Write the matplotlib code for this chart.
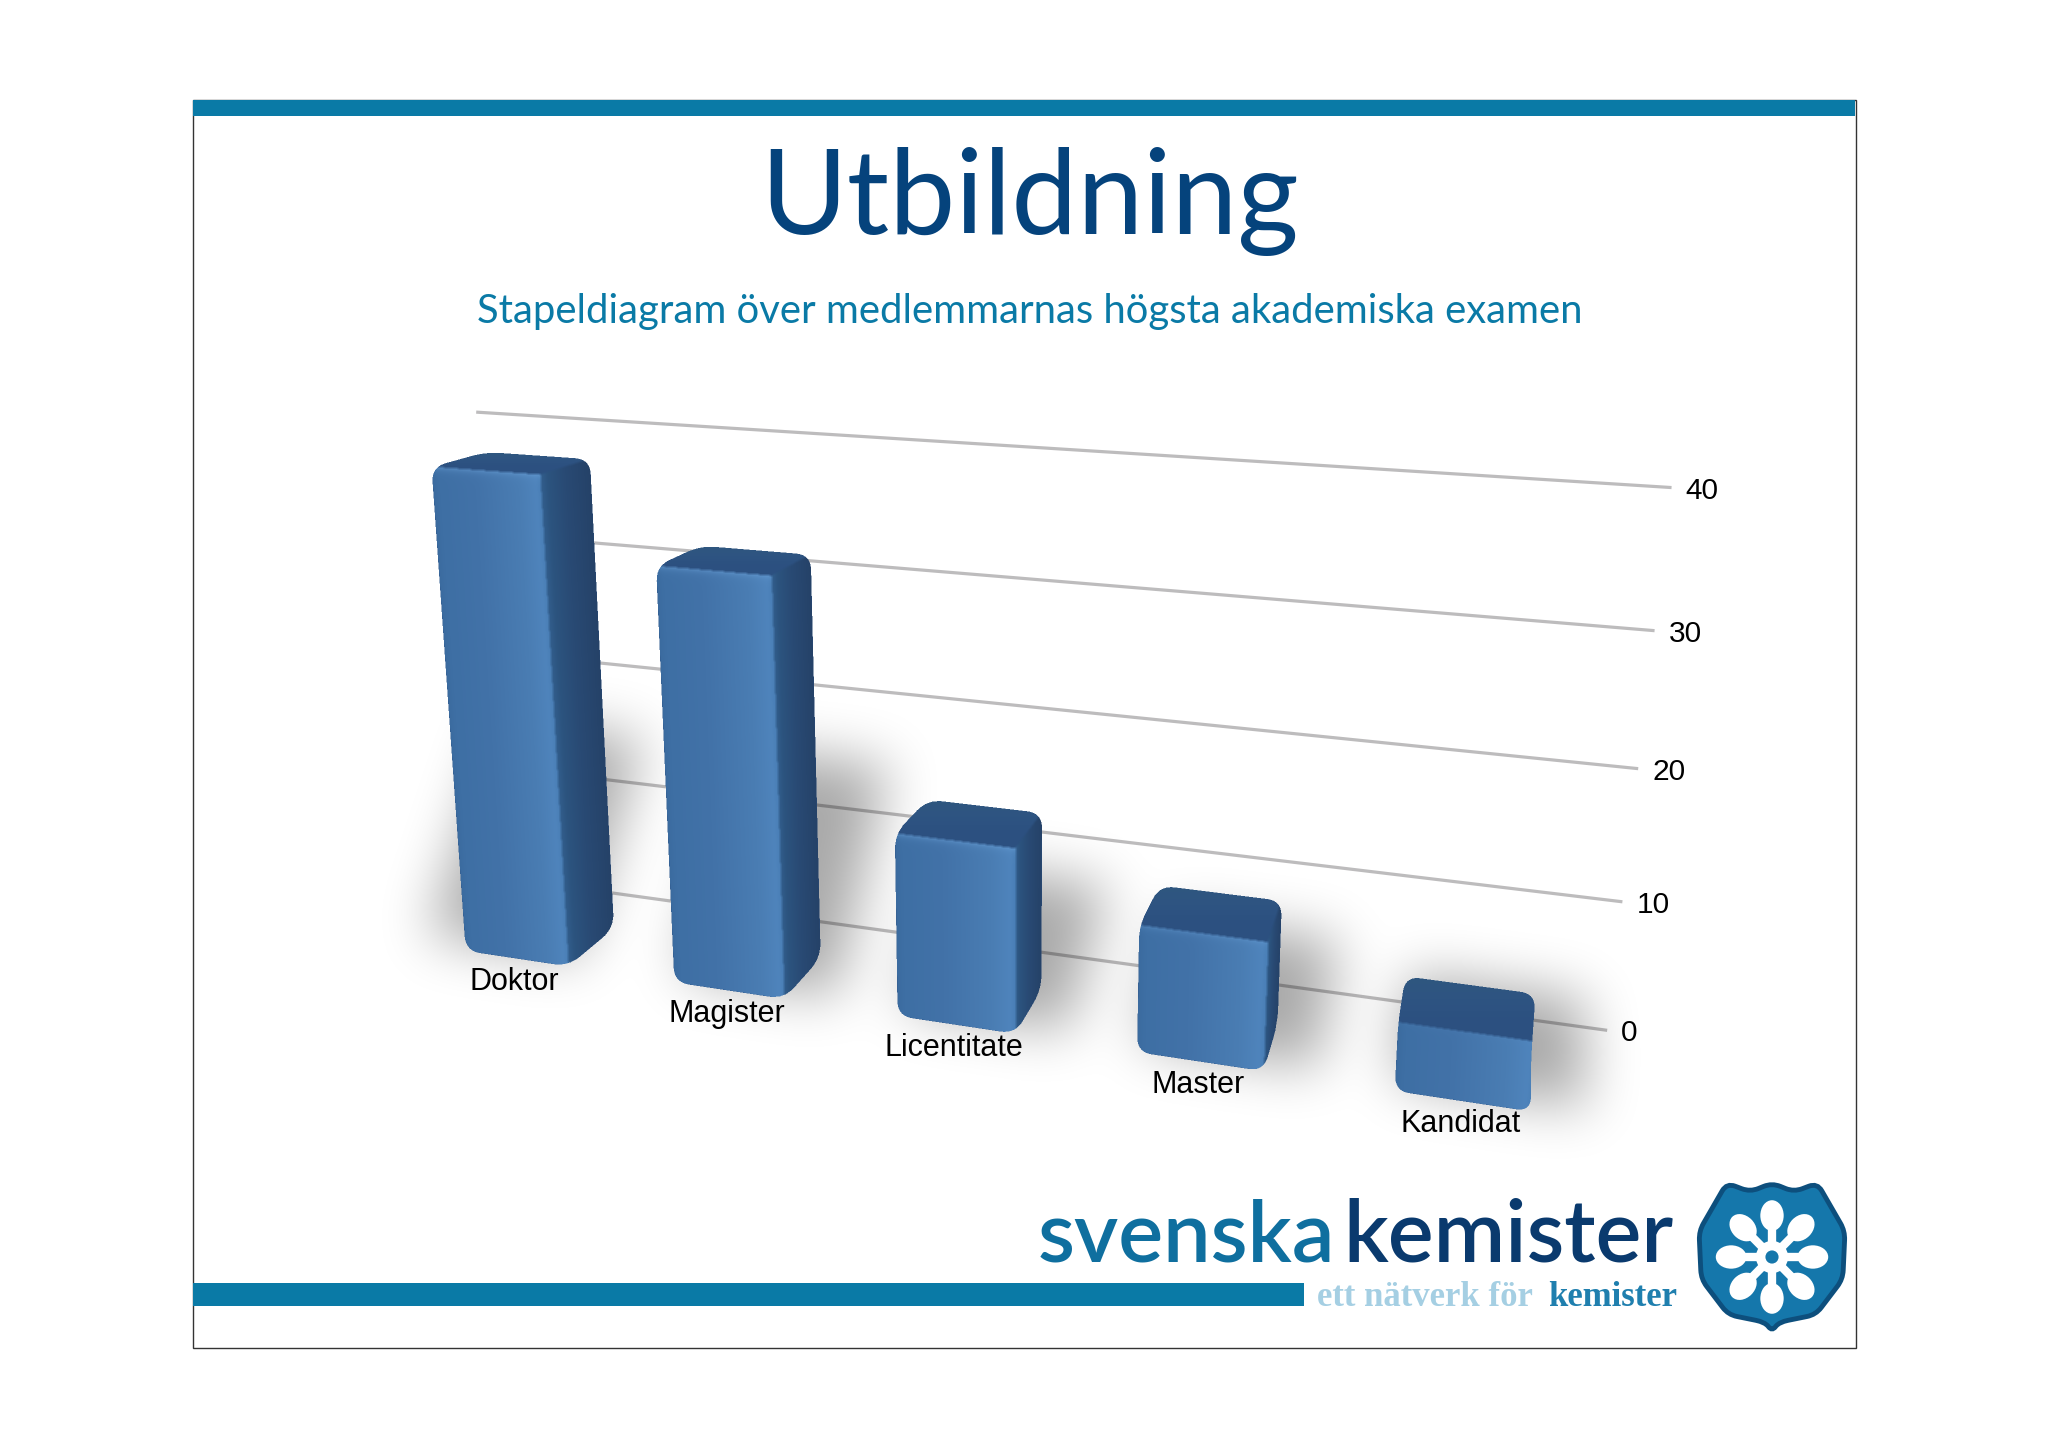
import numpy as np
import matplotlib
matplotlib.use("Agg")
import matplotlib.pyplot as plt
from matplotlib.path import Path
from matplotlib.patches import PathPatch, Circle, Ellipse, Rectangle

categories = ["Doktor", "Magister", "Licentitate", "Master", "Kandidat"]
values = [38, 32, 14, 9.5, 5]
grid_values = [0, 10, 20, 30, 40]

# bar size and wall position in chart units
HALF_W = 0.25
HALF_D = 0.25
WALL_Y = -0.68
WALL_X = (-0.55, 4.55)
WALL_LEAN = (0.001, 0.002)
SHADOW_LEAN = [-0.24, 0.2, 0.2, 0.2, 0.2]

# perspective camera: (category, depth, value) -> figure pixels
CAMERA = np.array([
    [183.535, -147.7376, -1.541877, 541.0488],
    [-0.7425483, -15.5977, -13.23929, 939.3907],
    [-0.03226043, -0.09638586, -0.00152294, 1.0],
])

def project(x, y, z):
    q = CAMERA @ np.array([x, y, z, 1.0])
    return q[0]/q[2], q[1]/q[2]

def rounded(points, r):
    pts = np.array(points, float)
    n = len(pts)
    verts, codes = [], []
    for k in range(n):
        p, a, b = pts[k], pts[k-1], pts[(k+1) % n]
        da, db = a-p, b-p
        ra = min(r, np.hypot(*da)/2.2)
        rb = min(r, np.hypot(*db)/2.2)
        s = p + da/np.hypot(*da)*ra
        e = p + db/np.hypot(*db)*rb
        verts += [s, p, e]
        codes += [Path.MOVETO if k == 0 else Path.LINETO, Path.CURVE3, Path.CURVE3]
    verts.append(verts[0]); codes.append(Path.CLOSEPOLY)
    return Path(verts, codes)

def ramp(u, stops, colors):
    c = np.array([matplotlib.colors.to_rgb(h) for h in colors])
    return np.dstack([np.interp(u, stops, c[:,j]) for j in range(3)])

def edge_x(y, a, b):
    return a[0] + (y-a[1])*(b[0]-a[0])/(b[1]-a[1])

def box_blur(a, n, times=3):
    k = np.ones(n)/n
    for _ in range(times):
        a = np.apply_along_axis(lambda c: np.convolve(c,k,mode="same"), 0, a)
        a = np.apply_along_axis(lambda c: np.convolve(c,k,mode="same"), 1, a)
    return a

def draw_bar(ax, i, v):
    l, r, f, b = i-HALF_W, i+HALF_W, HALF_D, -HALF_D
    flt, blt, brt, frt = [project(*c) for c in [(l,f,v),(l,b,v),(r,b,v),(r,f,v)]]
    flb, frb, brb = [project(*c) for c in [(l,f,0),(r,f,0),(r,b,0)]]
    sil = Path(rounded([flt,blt,brt,brb,frb,flb], 15).to_polygons(closed_only=True)[0])
    x0, x1 = int(sil.vertices[:,0].min())-4, int(sil.vertices[:,0].max())+5
    y0, y1 = int(sil.vertices[:,1].min())-4, int(sil.vertices[:,1].max())+5
    xs, ys = np.meshgrid(np.arange(x0,x1)+0.5, np.arange(y0,y1)+0.5)
    grid = np.c_[xs.ravel(), ys.ravel()]
    # alpha from 4 samples a pixel
    alpha = np.zeros(xs.shape)
    for dx, dy in [(-.25,-.25),(.25,-.25),(-.25,.25),(.25,.25)]:
        alpha += sil.contains_points(grid+[dx,dy]).reshape(xs.shape)
    alpha /= 4
    # top face
    tv = np.clip((ys-blt[1])/max(flt[1]-blt[1],1), 0, 1)
    img = ramp(tv, [0,0.5,1], ["#2f577f","#2e5482","#2c5080"])
    # side face
    m = Path([frt,brt,brb,frb]).contains_points(grid, radius=1).reshape(xs.shape)
    xl, xr = edge_x(ys,frt,frb), edge_x(ys,brt,brb)
    u = np.clip((xs-xl)/np.maximum(xr-xl,1), 0, 1)
    img[m] = ramp(u, [0,0.15,0.5,1], ["#335f8e","#2c547f","#294a74","#254268"])[m]
    # front face
    m = Path([flt,frt,frb,flb]).contains_points(grid, radius=1).reshape(xs.shape)
    xl, xr = edge_x(ys,flt,flb), edge_x(ys,frt,frb)
    u = np.clip((xs-xl)/np.maximum(xr-xl,1), 0, 1)
    fc = ramp(u, [0,0.06,0.4,0.8,0.96,1], ["#3b6b9f","#3e6fa4","#4272a8","#4a7db3","#4f84bc","#4a7fb6"])
    dist = ys-(flt[1]+(xs-flt[0])*(frt[1]-flt[1])/(frt[0]-flt[0]))
    glow = np.exp(-np.maximum(dist,0)/3.0)[...,None]*0.45*min(1, max(v-4,0)/8)
    fc = fc*(1-glow) + np.array(matplotlib.colors.to_rgb("#6ea5dc"))*glow
    img[m] = fc[m]
    img = np.dstack([box_blur(img[...,j], 3, 1) for j in range(3)])
    ax.imshow(np.dstack([np.clip(img,0,1), alpha]), extent=(x0,x1,y1,y0), zorder=5+i, interpolation="bilinear", aspect="auto")

fig = plt.figure(figsize=(20.48,14.47), dpi=100)
ax = fig.add_axes([0,0,1,1])
ax.set_xlim(0,2048); ax.set_ylim(1447,0); ax.axis("off")

BLUE = "#0a7aa6"
ax.add_patch(Rectangle((192.5,99.5),1663,1248, fc="white", ec="#333333", lw=1, zorder=1))
ax.add_patch(Rectangle((193,100),1662,16, fc=BLUE, ec="none", zorder=2))
ax.add_patch(Rectangle((193,1283),1111,23, fc=BLUE, ec="none", zorder=2))

ax.text(1030,202,"Utbildning",family="Lato",fontsize=85,color="#05437c",ha="center",va="center",zorder=3)
ax.text(1030,311,"Stapeldiagram över medlemmarnas högsta akademiska examen",family="Lato",fontsize=28.8,color=BLUE,ha="center",va="center",zorder=3)

for g in grid_values:
    a = project(WALL_X[0]+WALL_LEAN[0]*g,WALL_Y,g)
    b = project(WALL_X[1]+WALL_LEAN[1]*g,WALL_Y,g)
    ax.plot([a[0],b[0]],[a[1],b[1]],color="#bdbcbd",lw=2.3,zorder=2,solid_capstyle="butt")
    ax.text(b[0]+14,b[1]+3,str(g),family="Liberation Sans",fontsize=21.5,color="black",ha="left",va="center")

# soft shadows behind the bars, on a coarse grid
c = 4
sx, sy = np.meshgrid(np.arange(0,2048,c)+c/2, np.arange(0,1447,c)+c/2)
pts = np.c_[sx.ravel(), sy.ravel()]
shade = np.zeros(sx.shape)
for i, v in enumerate(values):
    lean = SHADOW_LEAN[i]
    l, r = i-HALF_W+min(lean,0), i+HALF_W+max(lean,0)
    top = min(v*0.45, 14)
    poly = [project(l,WALL_Y,top),project(r,WALL_Y,top),project(r,HALF_D-0.1,0),project(l,HALF_D-0.1,0)]
    shade = np.maximum(shade, Path(poly).contains_points(pts).reshape(sx.shape).astype(float))
shade = box_blur(shade, 13)
rgba = np.zeros(sx.shape+(4,))
rgba[...,3] = shade*0.34
ax.imshow(rgba, extent=(0,2048,1447,0), zorder=3, interpolation="bilinear", aspect="auto")
ax.set_xlim(0,2048); ax.set_ylim(1447,0)

for i, (name, v) in enumerate(zip(categories, values)):
    draw_bar(ax, i, v)
    p = project(i,HALF_D,0)
    ax.text(p[0]-2,p[1]+23,name,family="Liberation Sans",fontsize=22,color="black",ha="center",va="center",zorder=20)

# logo
ax.text(1038,1237,"svenska",family="Lato",fontsize=61,fontweight="semibold",color="#0f6f9f",ha="left",va="center",zorder=3)
ax.text(1343,1237,"kemister",family="Lato",fontsize=62,fontweight="semibold",color="#0a3a6e",ha="left",va="center",zorder=3)
ax.text(1317,1297,"ett nätverk för",family="Liberation Serif",fontsize=25,color="#a5cfe3",fontweight="bold",ha="left",va="center",zorder=3)
ax.text(1548,1297,"kemister",family="Liberation Serif",fontsize=25,color="#1f7fae",fontweight="bold",ha="left",va="center",zorder=3)

cx, cy, rx, ry = 1772, 1257, 73, 74
outline = [(-.62,1),(-.3,.88),(0,1),(.3,.88),(.62,1),(1,.35),(.97,-.3),(.6,-.78),(.1,-.88),(0,-1),(-.1,-.88),(-.6,-.78),(-.97,-.3),(-1,.35)]
shape = rounded([(cx+a*rx, cy-b*ry) for a,b in outline], 9)
ax.add_patch(PathPatch(shape, fc="#1577ab", ec="#0d4f7d", lw=3.5, zorder=3))
for k in range(8):
    t = k*np.pi/4+np.pi/2
    ax.plot([cx+.15*rx*np.cos(t),cx+.42*rx*np.cos(t)],[cy-.15*ry*np.sin(t),cy-.42*ry*np.sin(t)],color="white",lw=6,zorder=4)
    ax.add_patch(Ellipse((cx+.56*rx*np.cos(t),cy-.56*ry*np.sin(t)),.42*rx,.32*rx,angle=-np.degrees(t),fc="white",ec="none",zorder=4))
ax.add_patch(Circle((cx,cy),.22*rx,fc="white",ec="none",zorder=4))
ax.add_patch(Circle((cx,cy),.09*rx,fc="#1577ab",ec="none",zorder=4))

fig.savefig("out.png", dpi=100)
